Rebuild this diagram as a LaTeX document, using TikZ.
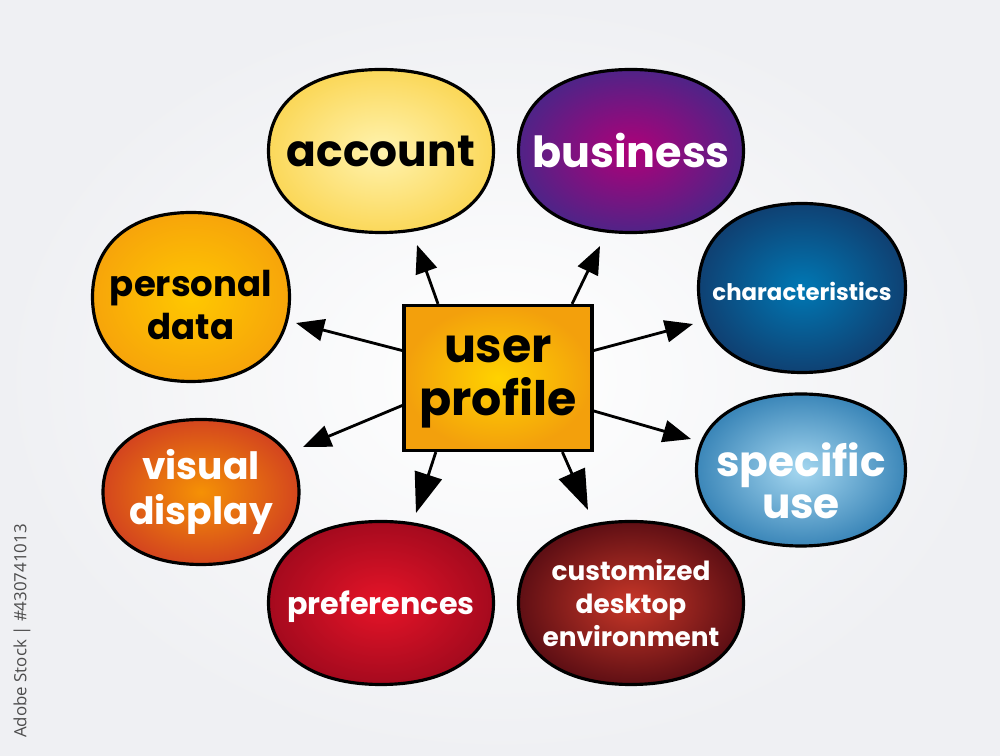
\documentclass[tikz,border=0pt]{standalone}
\usepackage{xcolor}
\usepackage{fontspec}
\setmainfont{Poppins}
\newfontfamily\sidefont{Open Sans}
\usetikzlibrary{arrows.meta}
\definecolor{bgOut}{RGB}{239,240,243}
\definecolor{accIn}{RGB}{255,243,175}
\definecolor{accOut}{RGB}{251,216,90}
\definecolor{busIn}{RGB}{175,0,120}
\definecolor{busOut}{RGB}{80,35,135}
\definecolor{perIn}{RGB}{255,200,0}
\definecolor{perOut}{RGB}{247,165,10}
\definecolor{chaIn}{RGB}{0,120,180}
\definecolor{chaOut}{RGB}{15,65,115}
\definecolor{visIn}{RGB}{245,145,5}
\definecolor{visOut}{RGB}{212,70,30}
\definecolor{speIn}{RGB}{165,215,240}
\definecolor{speOut}{RGB}{60,135,185}
\definecolor{preIn}{RGB}{230,20,40}
\definecolor{preOut}{RGB}{165,10,30}
\definecolor{cusIn}{RGB}{200,55,40}
\definecolor{cusOut}{RGB}{95,15,20}
\definecolor{proIn}{RGB}{255,210,0}
\definecolor{proOut}{RGB}{243,160,12}
\tikzset{
    outline/.style={draw,line width=0.9pt,shading=radial},
    label text/.style={inner sep=0pt,align=center},
    arrow/.style={-{Triangle[length=2.8mm,width=2.2mm]},line width=0.8pt},
    bigarrow/.style={-{Triangle[length=4mm,width=2.8mm]},line width=0.8pt}
}
% forma tondeggiante: opzioni, nome, x, y, rx, ry, colori, testo
\newcommand{\blob}[8]{
    \path[outline,inner color=#7In,outer color=#7Out]
        ({#3-#5},#4) .. controls ({#3-#5},{#4-0.62*#6}) and ({#3-0.62*#5},{#4-#6}) .. ({#3},{#4-#6})
        .. controls ({#3+0.62*#5},{#4-#6}) and ({#3+#5},{#4-0.62*#6}) .. ({#3+#5},#4)
        .. controls ({#3+#5},{#4+0.62*#6}) and ({#3+0.62*#5},{#4+#6}) .. ({#3},{#4+#6})
        .. controls ({#3-0.62*#5},{#4+#6}) and ({#3-#5},{#4+0.62*#6}) .. ({#3-#5},#4) -- cycle;
    \node[label text,#1] (#2) at (#3,#4) {#8};
}

\begin{document}
\begin{tikzpicture}[x=0.1mm,y=-0.1mm]
        % Sfondo
        \path[use as bounding box,inner color=white,outer color=bgOut] (0,0) rectangle (1000,756);

        % Riquadro centrale
        \node[draw,line width=0.9pt,inner sep=0pt,minimum width=18.8mm,minimum height=14.5mm,align=center,
              shading=radial,inner color=proIn,outer color=proOut,
              font=\fontsize{13.5}{15}\selectfont\bfseries] (profile) at (498,378) {\rule{0pt}{3.4mm}user\\profile};

        % Ellissi attorno al riquadro
        \blob{font=\fontsize{12.5}{15}\selectfont\bfseries}{account}{381}{151}{112.5}{81.5}{acc}{account}
        \blob{text=white,font=\fontsize{12.2}{15}\selectfont\bfseries}{business}{631}{151}{112.5}{81.5}{bus}{business}
        \blob{yshift=-0.8mm,font=\fontsize{10.1}{12.2}\selectfont\bfseries}{personal}{191}{297}{98.5}{84.5}{per}{personal\\data}
        \blob{yshift=-0.3mm,text=white,font=\fontsize{6.5}{8}\selectfont\bfseries}{characteristics}{802}{288}{103.5}{84.5}{cha}{characteristics}
        \blob{text=white,font=\fontsize{10.7}{13}\selectfont\bfseries}{visual}{201}{492}{98}{72.5}{vis}{visual\\display}
        \blob{yshift=-1.1mm,text=white,font=\fontsize{12}{12}\selectfont\bfseries}{specific}{801}{470}{104.5}{76}{spe}{specific\\use}
        \blob{yshift=-0.4mm,text=white,font=\fontsize{8.6}{12}\selectfont\bfseries}{preferences}{381}{603}{112.5}{81.5}{pre}{preferences}
        \blob{text=white,font=\fontsize{7.5}{9.4}\selectfont\bfseries}{customized}{631}{603}{112.5}{81.5}{cus}{customized\\desktop\\environment}

        % Punte delle frecce
        \coordinate (tipAccount) at (417,245);
        \coordinate (tipBusiness) at (600,246);
        \coordinate (tipPersonal) at (296,323);
        \coordinate (tipCharacteristics) at (693,324);
        \coordinate (tipVisual) at (303,447);
        \coordinate (tipSpecific) at (691,439);
        \coordinate (tipPreferences) at (416,513);
        \coordinate (tipCustomized) at (588,510);

        % Frecce dal riquadro
        \draw[arrow] (profile.129) -- (tipAccount);
        \draw[arrow] (profile.45) -- (tipBusiness);
        \draw[arrow] (profile.164) -- (tipPersonal);
        \draw[arrow] (profile.16) -- (tipCharacteristics);
        \draw[arrow] (profile.196) -- (tipVisual);
        \draw[arrow] (profile.341) -- (tipSpecific);
        \draw[bigarrow] (profile.230) -- (tipPreferences);
        \draw[bigarrow] (profile.311) -- (tipCustomized);

        % Scritta laterale
        \node[rotate=90,text=black!70,font=\fontsize{4.8}{6}\sidefont] (stock) at (22,631) {Adobe Stock | \#430741013};
    \end{tikzpicture}
\end{document}
